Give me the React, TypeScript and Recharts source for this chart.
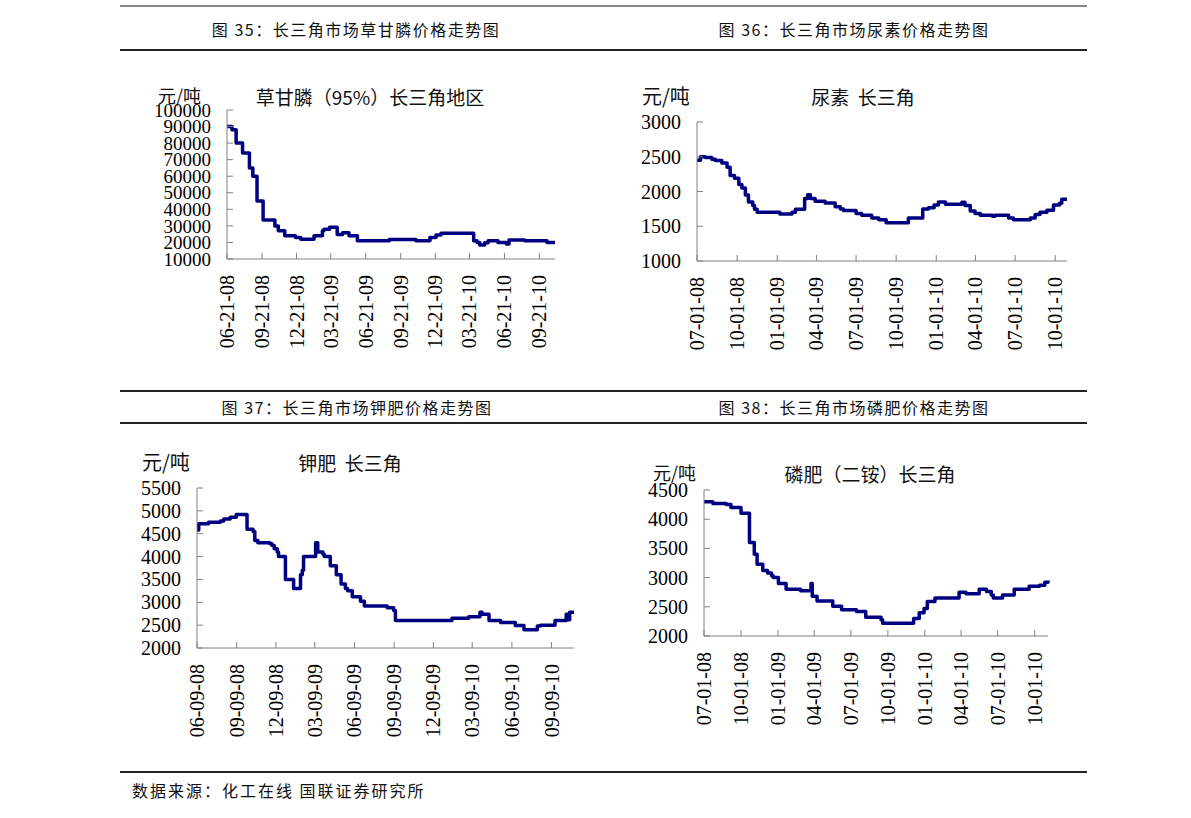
import React from "react";
import { LineChart, Line, XAxis, YAxis } from "recharts";

const NAVY = "#000080";
const AXIS = "#808080";
const NUM_FONT = "'Liberation Serif', 'Times New Roman', serif";
const CJK_FONT = "'Noto Sans CJK SC', 'Noto Sans', sans-serif";

// 草甘膦（95%）长三角地区, days counted from 06-21-08
const glyStart = "06-21-08";
const glyTicks = ["06-21-08", "09-21-08", "12-21-08", "03-21-09", "06-21-09", "09-21-09", "12-21-09", "03-21-10", "06-21-10", "09-21-10"];
const glyDays = [0, 13, 24, 41, 59, 68, 79, 95, 126, 135, 152, 180, 194, 229, 251, 255, 270, 290, 304, 321, 343, 427, 497, 534, 550, 563, 649, 658, 665, 678, 687, 713, 735, 742, 783, 842, 863];
const glyPrice = [90000, 88000, 80000, 74000, 65000, 60000, 45000, 33500, 30000, 27000, 24000, 23000, 22000, 24000, 27000, 28000, 29200, 24800, 25800, 24000, 21000, 21800, 21000, 23000, 24500, 25500, 21000, 20000, 18400, 19800, 21000, 20000, 19000, 21500, 21000, 20000, 20000];
const glyY = [10000, 20000, 30000, 40000, 50000, 60000, 70000, 80000, 90000, 100000];

// 尿素 长三角, days counted from 07-01-08
const ureaStart = "07-01-08";
const ureaTicks = ["07-01-08", "10-01-08", "01-01-09", "04-01-09", "07-01-09", "10-01-09", "01-01-10", "04-01-10", "07-01-10", "10-01-10"];
const ureaDays = [0, 8, 19, 34, 42, 57, 69, 76, 86, 96, 103, 111, 118, 128, 132, 138, 190, 218, 226, 247, 254, 260, 271, 294, 317, 329, 336, 365, 378, 401, 417, 434, 485, 518, 531, 544, 554, 570, 608, 615, 627, 638, 650, 678, 684, 715, 726, 765, 776, 787, 803, 818, 832, 837, 849];
const ureaPrice = [2450, 2500, 2490, 2465, 2445, 2410, 2350, 2230, 2190, 2100, 2050, 1950, 1850, 1800, 1745, 1700, 1675, 1700, 1745, 1900, 1955, 1900, 1860, 1835, 1780, 1750, 1725, 1685, 1660, 1620, 1595, 1550, 1620, 1750, 1765, 1805, 1850, 1815, 1845, 1800, 1720, 1685, 1660, 1645, 1660, 1620, 1595, 1620, 1670, 1700, 1730, 1805, 1830, 1890, 1890];
const ureaY = [1000, 1500, 2000, 2500, 3000];

// 钾肥 长三角, days counted from 06-09-08
const potStart = "06-09-08";
const potTicks = ["06-09-08", "09-09-08", "12-09-08", "03-09-09", "06-09-09", "09-09-09", "12-09-09", "03-09-10", "06-09-10", "09-09-10"];
const potDays = [0, 4, 27, 54, 62, 77, 91, 116, 130, 134, 141, 169, 174, 179, 186, 189, 205, 224, 240, 244, 247, 275, 280, 292, 295, 309, 323, 334, 344, 349, 360, 379, 388, 441, 456, 460, 591, 630, 656, 661, 677, 704, 738, 758, 789, 796, 830, 856, 860, 864, 874];
const potPrice = [4580, 4720, 4750, 4780, 4820, 4860, 4920, 4600, 4550, 4350, 4300, 4280, 4240, 4170, 4100, 4000, 3500, 3300, 3600, 3700, 4000, 4300, 4100, 4050, 4000, 3800, 3600, 3400, 3300, 3250, 3120, 3020, 2920, 2880, 2820, 2600, 2650, 2685, 2780, 2740, 2600, 2560, 2490, 2400, 2480, 2500, 2600, 2740, 2620, 2780, 2780];
const potY = [2000, 2500, 3000, 3500, 4000, 4500, 5000, 5500];

// 磷肥（二铵）长三角, days counted from 07-01-08
const dapStart = "07-01-08";
const dapTicks = ["07-01-08", "10-01-08", "01-01-09", "04-01-09", "07-01-09", "10-01-09", "01-01-10", "04-01-10", "07-01-10", "10-01-10"];
const dapDays = [0, 22, 55, 67, 92, 113, 125, 132, 146, 158, 168, 172, 185, 204, 240, 263, 266, 269, 281, 320, 342, 379, 402, 440, 444, 521, 535, 547, 555, 574, 634, 651, 684, 702, 714, 719, 742, 771, 808, 834, 847, 855];
const dapPrice = [4300, 4270, 4250, 4200, 4100, 3600, 3400, 3230, 3120, 3080, 3030, 3000, 2900, 2800, 2775, 2780, 2900, 2680, 2600, 2510, 2450, 2420, 2320, 2280, 2220, 2300, 2400, 2470, 2590, 2650, 2750, 2725, 2800, 2760, 2700, 2650, 2700, 2800, 2850, 2870, 2920, 2950];
const dapY = [2000, 2500, 3000, 3500, 4000, 4500];

const Y_W = 80;
const M_TOP = 10;
const M_RIGHT = 6;
const X_H = 100;

const ms = (label: string) => {
  const [mm, dd, yy] = label.split("-").map(Number);
  return Date.UTC(2000 + yy, mm - 1, dd);
};
const dayOf = (label: string, start: string) => Math.round((ms(label) - ms(start)) / 86400000);

const XTick = ({ x, y, label }: any) => (
  <g>
    <line x1={x} x2={x} y1={y} y2={y - 6} stroke={AXIS} />
    <text
      transform={`translate(${x},${y + 16}) rotate(-90)`}
      textAnchor="end"
      dy="0.35em"
      fontSize={20}
      fontFamily={NUM_FONT}
      fill="#000"
    >
      {label}
    </text>
  </g>
);

const YTick = ({ x, y, payload, size }: any) => (
  <g>
    <line x1={x} x2={x + 6} y1={y} y2={y} stroke={AXIS} />
    <text x={x - 16} y={y} dy="0.35em" textAnchor="end" fontSize={size} fontFamily={NUM_FONT} fill="#000">
      {payload.value}
    </text>
  </g>
);

interface ChartProps {
  box: { x: number; y: number; w: number; h: number };
  start: string;
  tickLabels: string[];
  days: number[];
  values: number[];
  yTicks: number[];
  ySize?: number;
}

const PriceChart: React.FC<ChartProps> = ({ box, start, tickLabels, days, values, yTicks, ySize = 20 }) => {
  const data = days.map((t, i) => ({ t, v: values[i] }));
  const tickDays = tickLabels.map((l) => dayOf(l, start));
  const labelOf = new Map(tickDays.map((d, i) => [d, tickLabels[i]]));
  return (
    <div style={{ position: "absolute", left: box.x - Y_W, top: box.y - M_TOP }}>
      <LineChart
        width={Y_W + box.w + M_RIGHT}
        height={M_TOP + box.h + X_H}
        data={data}
        margin={{ top: M_TOP, right: M_RIGHT, left: 0, bottom: 0 }}
      >
        <XAxis
          dataKey="t"
          type="number"
          domain={[0, days[days.length - 1]]}
          ticks={tickDays}
          interval={0}
          height={X_H}
          tickSize={0}
          tickMargin={0}
          tickLine={false}
          axisLine={{ stroke: AXIS }}
          tick={(p: any) => <XTick x={p.x} y={p.y} label={labelOf.get(p.payload.value)} />}
        />
        <YAxis
          type="number"
          domain={[yTicks[0], yTicks[yTicks.length - 1]]}
          ticks={yTicks}
          interval={0}
          width={Y_W}
          tickSize={0}
          tickMargin={0}
          tickLine={false}
          axisLine={{ stroke: AXIS }}
          tick={(p: any) => <YTick x={p.x} y={p.y} payload={p.payload} size={ySize} />}
        />
        <Line
          type="stepAfter"
          dataKey="v"
          stroke={NAVY}
          strokeWidth={3.5}
          strokeLinejoin="round"
          dot={false}
          isAnimationActive={false}
        />
      </LineChart>
    </div>
  );
};

const Text: React.FC<{ x: number; y: number; center?: boolean; size?: number; spacing?: number; children: React.ReactNode }> = ({
  x,
  y,
  center,
  size = 19,
  spacing = 0,
  children,
}) => (
  <div
    style={{
      position: "absolute",
      left: x,
      top: y,
      transform: center ? "translate(-50%, -50%)" : "translate(0, -50%)",
      fontFamily: CJK_FONT,
      fontSize: size,
      letterSpacing: spacing,
      whiteSpace: "pre",
      lineHeight: 1,
      color: "#111",
    }}
  >
    {children}
  </div>
);

const Rule: React.FC<{ y: number; color?: string; thick?: number }> = ({ y, color = "#222", thick = 1.5 }) => (
  <div style={{ position: "absolute", left: 120, width: 967, top: y - thick / 2, height: thick, background: color }} />
);

export default function App() {
  return (
    <div style={{ position: "absolute", left: 0, top: 0, width: 1191, height: 818, background: "#fff", overflow: "hidden" }}>
      <Rule y={6} color="#888" thick={2} />
      <Rule y={50} />
      <Rule y={391} />
      <Rule y={423} />
      <Rule y={772} />

      <Text x={356} y={29} center size={16} spacing={1.5}>图 35：长三角市场草甘膦价格走势图</Text>
      <Text x={854} y={29} center size={16} spacing={1.5}>图 36：长三角市场尿素价格走势图</Text>
      <Text x={357} y={407} center size={16} spacing={1.5}>图 37：长三角市场钾肥价格走势图</Text>
      <Text x={854} y={407} center size={16} spacing={1.5}>图 38：长三角市场磷肥价格走势图</Text>
      <Text x={132} y={790} size={16} spacing={2}>数据来源：化工在线 国联证券研究所</Text>

      <Text x={158} y={95} size={18}>元/吨</Text>
      <Text x={370} y={96} center>草甘膦（95%）长三角地区</Text>
      <Text x={642} y={96} size={20}>元/吨</Text>
      <Text x={863} y={96} center>尿素  长三角</Text>
      <Text x={142} y={462} size={20}>元/吨</Text>
      <Text x={350} y={462} center>钾肥  长三角</Text>
      <Text x={653} y={472} size={18}>元/吨</Text>
      <Text x={870} y={473} center>磷肥（二铵）长三角</Text>

      <PriceChart box={{ x: 227, y: 110, w: 328, h: 149 }} start={glyStart} tickLabels={glyTicks} days={glyDays} values={glyPrice} yTicks={glyY} ySize={19} />
      <PriceChart box={{ x: 697, y: 122, w: 370, h: 139 }} start={ureaStart} tickLabels={ureaTicks} days={ureaDays} values={ureaPrice} yTicks={ureaY} />
      <PriceChart box={{ x: 197, y: 488, w: 377, h: 160 }} start={potStart} tickLabels={potTicks} days={potDays} values={potPrice} yTicks={potY} />
      <PriceChart box={{ x: 704, y: 490, w: 344, h: 146 }} start={dapStart} tickLabels={dapTicks} days={dapDays} values={dapPrice} yTicks={dapY} />
    </div>
  );
}
